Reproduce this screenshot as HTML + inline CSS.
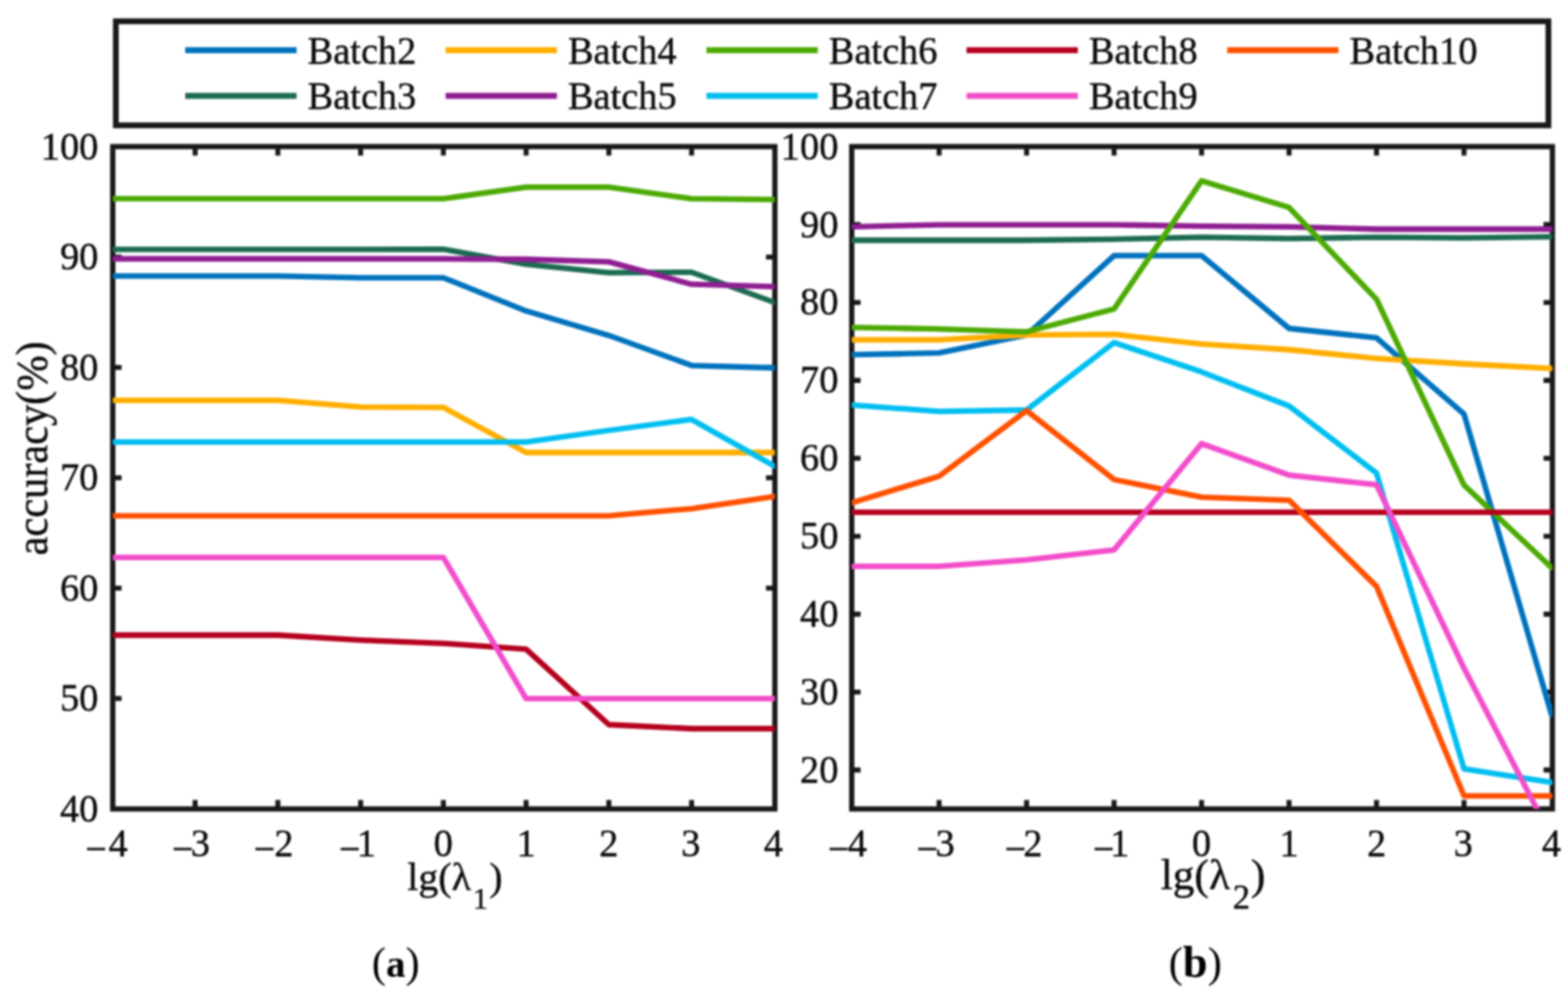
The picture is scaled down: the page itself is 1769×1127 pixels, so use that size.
<!DOCTYPE html>
<html lang="en"><head><meta charset="utf-8">
<title>Accuracy versus regularisation parameters</title>
<style>
html,body{margin:0;padding:0;background:#fff}
body{width:1769px;height:1127px;overflow:hidden}
svg{display:block;filter:blur(0.8px)}
text{font-family:"Liberation Serif", "DejaVu Serif", serif;fill:#0a0a0a;stroke:#0a0a0a;stroke-width:0.45px;stroke-linejoin:round}
.tl,.lg{font-size:43.3px}
.mn{font-size:43px}
.box{fill:none;stroke:#181818;stroke-width:5.9}
.ticks{fill:none;stroke:#181818;stroke-width:5.6}
.legbox{fill:#fff;stroke:#181818;stroke-width:6.5}
polyline,.ll{fill:none;stroke-width:6.3;stroke-linejoin:round;stroke-linecap:round}
.s2{stroke:#0072BD}
.s3{stroke:#1C6B52}
.s4{stroke:#FFAE00}
.s5{stroke:#8F1E92}
.s6{stroke:#4CAA04}
.s7{stroke:#00BEF0}
.s8{stroke:#B5001E}
.s9{stroke:#F24DCB}
.s10{stroke:#FF5000}
.cap{fill:#000;stroke:none}
.lgl{stroke-width:6.6;stroke-linecap:butt}
</style></head><body>
<svg width="1769" height="1127" viewBox="0 0 1769 1127">
<rect width="1769" height="1127" fill="#fff"/>
<defs>
<clipPath id="clip-a"><rect x="127.2" y="165.4" width="747" height="747.2"/></clipPath>
<clipPath id="clip-b"><rect x="960.9" y="165.4" width="790.5" height="747.2"/></clipPath>
</defs>
<g id="legend">
<rect class="legbox" x="130.7" y="24" width="1616.2" height="117.4"/>
<line class="ll lgl s2" x1="209" y1="56.6" x2="334.6" y2="56.6"/>
<text class="lg" x="347" y="71.7">Batch2</text>
<line class="ll lgl s4" x1="502.7" y1="56.6" x2="628.3" y2="56.6"/>
<text class="lg" x="640.7" y="71.7">Batch4</text>
<line class="ll lgl s6" x1="797" y1="56.6" x2="922.6" y2="56.6"/>
<text class="lg" x="935" y="71.7">Batch6</text>
<line class="ll lgl s8" x1="1090.4" y1="56.6" x2="1216" y2="56.6"/>
<text class="lg" x="1228.4" y="71.7">Batch8</text>
<line class="ll lgl s10" x1="1384.5" y1="56.6" x2="1510.1" y2="56.6"/>
<text class="lg" x="1522.5" y="71.7">Batch10</text>
<line class="ll lgl s3" x1="209" y1="108.1" x2="334.6" y2="108.1"/>
<text class="lg" x="347" y="122.9">Batch3</text>
<line class="ll lgl s5" x1="502.7" y1="108.1" x2="628.3" y2="108.1"/>
<text class="lg" x="640.7" y="122.9">Batch5</text>
<line class="ll lgl s7" x1="797" y1="108.1" x2="922.6" y2="108.1"/>
<text class="lg" x="935" y="122.9">Batch7</text>
<line class="ll lgl s9" x1="1090.4" y1="108.1" x2="1216" y2="108.1"/>
<text class="lg" x="1228.4" y="122.9">Batch9</text>
</g>
<g class="axes" id="axes-a">
<rect class="box" x="127.2" y="165.4" width="747" height="747.2"/>
<path class="ticks" d="M220.15 912.6v-10M220.15 165.4v10M313.5 912.6v-10M313.5 165.4v10M406.85 912.6v-10M406.85 165.4v10M500.2 912.6v-10M500.2 165.4v10M593.55 912.6v-10M593.55 165.4v10M686.9 912.6v-10M686.9 165.4v10M780.25 912.6v-10M780.25 165.4v10M127.2 788.07h10M874.2 788.07h-10M127.2 663.53h10M874.2 663.53h-10M127.2 539h10M874.2 539h-10M127.2 414.47h10M874.2 414.47h-10M127.2 289.93h10M874.2 289.93h-10"/>
<g class="lines" clip-path="url(#clip-a)">
<polyline class="s2" points="126.8,311.4 220.15,311.4 313.5,311.4 406.85,313.3 500.2,313.3 593.55,350.8 686.9,378.4 780.25,412.3 873.6,415"/>
<polyline class="s3" points="126.8,281.4 220.15,281.4 313.5,281.4 406.85,281.4 500.2,281.2 593.55,298.1 686.9,307.6 780.25,307.1 873.6,341.1"/>
<polyline class="s4" points="126.8,451.7 220.15,451.7 313.5,451.7 406.85,459.1 500.2,459.6 593.55,510.5 686.9,510.5 780.25,510.5 873.6,510.5"/>
<polyline class="s5" points="126.8,292 220.15,292 313.5,292 406.85,292 500.2,292 593.55,292.5 686.9,295.4 780.25,320.7 873.6,323.4"/>
<polyline class="s6" points="126.8,224.2 220.15,224.2 313.5,224.2 406.85,224.2 500.2,224.2 593.55,211.05 686.9,211.05 780.25,224.2 873.6,225.1"/>
<polyline class="s7" points="126.8,498.7 220.15,498.7 313.5,498.7 406.85,498.7 500.2,498.7 593.55,498.7 686.9,485.5 780.25,473.2 873.6,525.8"/>
<polyline class="s8" points="126.8,716.5 220.15,716.5 313.5,716.5 406.85,722.1 500.2,725.8 593.55,732.3 686.9,817.5 780.25,822 873.6,822"/>
<polyline class="s10" points="126.8,581.9 220.15,581.9 313.5,581.9 406.85,581.9 500.2,581.9 593.55,581.9 686.9,581.9 780.25,573.8 873.6,560.2"/>
<polyline class="s9" points="126.8,628.9 220.15,628.9 313.5,628.9 406.85,628.9 500.2,628.9 593.55,788.1 686.9,788.1 780.25,788.1 873.6,788.1"/>
</g>
</g>
<g class="axes" id="axes-b">
<rect class="box" x="960.9" y="165.4" width="790.5" height="747.2"/>
<path class="ticks" d="M1059.5 912.6v-10M1059.5 165.4v10M1158.2 912.6v-10M1158.2 165.4v10M1256.9 912.6v-10M1256.9 165.4v10M1355.6 912.6v-10M1355.6 165.4v10M1454.3 912.6v-10M1454.3 165.4v10M1553 912.6v-10M1553 165.4v10M1651.7 912.6v-10M1651.7 165.4v10M960.9 868.65h10M1751.4 868.65h-10M960.9 780.74h10M1751.4 780.74h-10M960.9 692.84h10M1751.4 692.84h-10M960.9 604.93h10M1751.4 604.93h-10M960.9 517.02h10M1751.4 517.02h-10M960.9 429.12h10M1751.4 429.12h-10M960.9 341.21h10M1751.4 341.21h-10M960.9 253.31h10M1751.4 253.31h-10"/>
<g class="lines" clip-path="url(#clip-b)">
<polyline class="s2" points="960.8,400.2 1059.5,398.2 1158.2,378 1256.9,288.4 1355.6,288.4 1454.3,370.5 1553,381.1 1651.7,467.1 1750.4,806"/>
<polyline class="s3" points="960.8,271 1059.5,271 1158.2,271 1256.9,269.8 1355.6,267.6 1454.3,269.2 1553,267.6 1651.7,268.3 1750.4,267.1"/>
<polyline class="s4" points="960.8,383.4 1059.5,383.4 1158.2,377.9 1256.9,377.2 1355.6,388.2 1454.3,394.5 1553,404.4 1651.7,410.5 1750.4,415.7"/>
<polyline class="s5" points="960.8,255.8 1059.5,253.6 1158.2,253.6 1256.9,253.6 1355.6,255.1 1454.3,255.8 1553,258.5 1651.7,258.5 1750.4,258.5"/>
<polyline class="s6" points="960.8,369.3 1059.5,371.1 1158.2,374.3 1256.9,348.5 1355.6,204 1454.3,234.1 1553,337.7 1651.7,547.3 1750.4,640.2"/>
<polyline class="s7" points="960.8,456.9 1059.5,464.1 1158.2,462.5 1256.9,386.5 1355.6,419.6 1454.3,458 1553,533.8 1651.7,867.3 1750.4,882.7"/>
<polyline class="s8" points="960.8,577.9 1059.5,577.9 1158.2,577.9 1256.9,577.9 1355.6,577.9 1454.3,577.9 1553,577.9 1651.7,577.9 1750.4,577.9"/>
<polyline class="s10" points="960.8,567.2 1059.5,537.2 1158.2,463.2 1256.9,541 1355.6,560.9 1454.3,564.3 1553,661.5 1651.7,897.9 1750.4,897.9"/>
<polyline class="s9" points="960.8,638.9 1059.5,638.9 1158.2,631.7 1256.9,620.3 1355.6,500.5 1454.3,536 1553,546.9 1651.7,753.8 1750.4,944.5"/>
</g>
</g>
<g id="ticklabels">
<text class="tl" text-anchor="end" x="111" y="926.8">40</text>
<text class="tl" text-anchor="end" x="111" y="802.27">50</text>
<text class="tl" text-anchor="end" x="111" y="677.73">60</text>
<text class="tl" text-anchor="end" x="111" y="553.2">70</text>
<text class="tl" text-anchor="end" x="111" y="428.67">80</text>
<text class="tl" text-anchor="end" x="111" y="304.13">90</text>
<text class="tl" text-anchor="end" x="111" y="179.6">100</text>
<text class="tl" text-anchor="end" x="945.8" y="882.85">20</text>
<text class="tl" text-anchor="end" x="945.8" y="794.94">30</text>
<text class="tl" text-anchor="end" x="945.8" y="707.04">40</text>
<text class="tl" text-anchor="end" x="945.8" y="619.13">50</text>
<text class="tl" text-anchor="end" x="945.8" y="531.22">60</text>
<text class="tl" text-anchor="end" x="945.8" y="443.32">70</text>
<text class="tl" text-anchor="end" x="945.8" y="355.41">80</text>
<text class="tl" text-anchor="end" x="945.8" y="267.51">90</text>
<text class="tl" text-anchor="end" x="945.8" y="179.6">100</text>
<text class="tl" y="966.4"><tspan class="mn" x="96.2" dy="5.3">−</tspan><tspan x="122.4" dy="-5.3">4</tspan></text>
<text class="tl" y="966.4"><tspan class="mn" x="194" dy="5.3">−</tspan><tspan x="215.2" dy="-5.3">3</tspan></text>
<text class="tl" y="966.4"><tspan class="mn" x="286.3" dy="5.3">−</tspan><tspan x="309.6" dy="-5.3">2</tspan></text>
<text class="tl" y="966.4"><tspan class="mn" x="382.6" dy="5.3">−</tspan><tspan x="402.4" dy="-5.3">1</tspan></text>
<text class="tl" text-anchor="middle" x="500.2" y="966.4">0</text>
<text class="tl" text-anchor="middle" x="593.55" y="966.4">1</text>
<text class="tl" text-anchor="middle" x="686.9" y="966.4">2</text>
<text class="tl" text-anchor="middle" x="779.45" y="966.4">3</text>
<text class="tl" text-anchor="middle" x="872.7" y="966.4">4</text>
<text class="tl" y="966.4"><tspan class="mn" x="934" dy="5.3">−</tspan><tspan x="956.6" dy="-5.3">4</tspan></text>
<text class="tl" y="966.4"><tspan class="mn" x="1034" dy="5.3">−</tspan><tspan x="1055.4" dy="-5.3">3</tspan></text>
<text class="tl" y="966.4"><tspan class="mn" x="1133.6" dy="5.3">−</tspan><tspan x="1154.5" dy="-5.3">2</tspan></text>
<text class="tl" y="966.4"><tspan class="mn" x="1233.1" dy="5.3">−</tspan><tspan x="1252.4" dy="-5.3">1</tspan></text>
<text class="tl" text-anchor="middle" x="1355.6" y="966.4">0</text>
<text class="tl" text-anchor="middle" x="1454.3" y="966.4">1</text>
<text class="tl" text-anchor="middle" x="1553" y="966.4">2</text>
<text class="tl" text-anchor="middle" x="1650.9" y="966.4">3</text>
<text class="tl" text-anchor="middle" x="1750.4" y="966.4">4</text>
</g>
<g id="labels">
<text class="xl" style="font-size:45px" x="459.6" y="1003.9">lg(λ<tspan style="font-size:34px" dy="20.7" dx="2">1</tspan><tspan dy="-20.7" dx="1.5">)</tspan></text>
<text class="xl" style="font-size:49px" x="1309.5" y="1002.7">lg(λ<tspan style="font-size:39px" dy="22.7" dx="3">2</tspan><tspan dy="-22.7" dx="1">)</tspan></text>
<text class="yl" style="font-size:47px" transform="translate(52.8 626.4) rotate(-90) scale(1.017 1.075)">accuracy(%)</text>
</g>
<g id="captions">
<text class="cap" style="font-size:48px" x="419.6" y="1101.5">(<tspan font-weight="bold" style="font-size:44px">a</tspan>)</text>
<text class="cap" style="font-size:48px" x="1318.6" y="1101.5">(<tspan font-weight="bold" style="font-size:50px">b</tspan>)</text>
</g>
</svg></body></html>
